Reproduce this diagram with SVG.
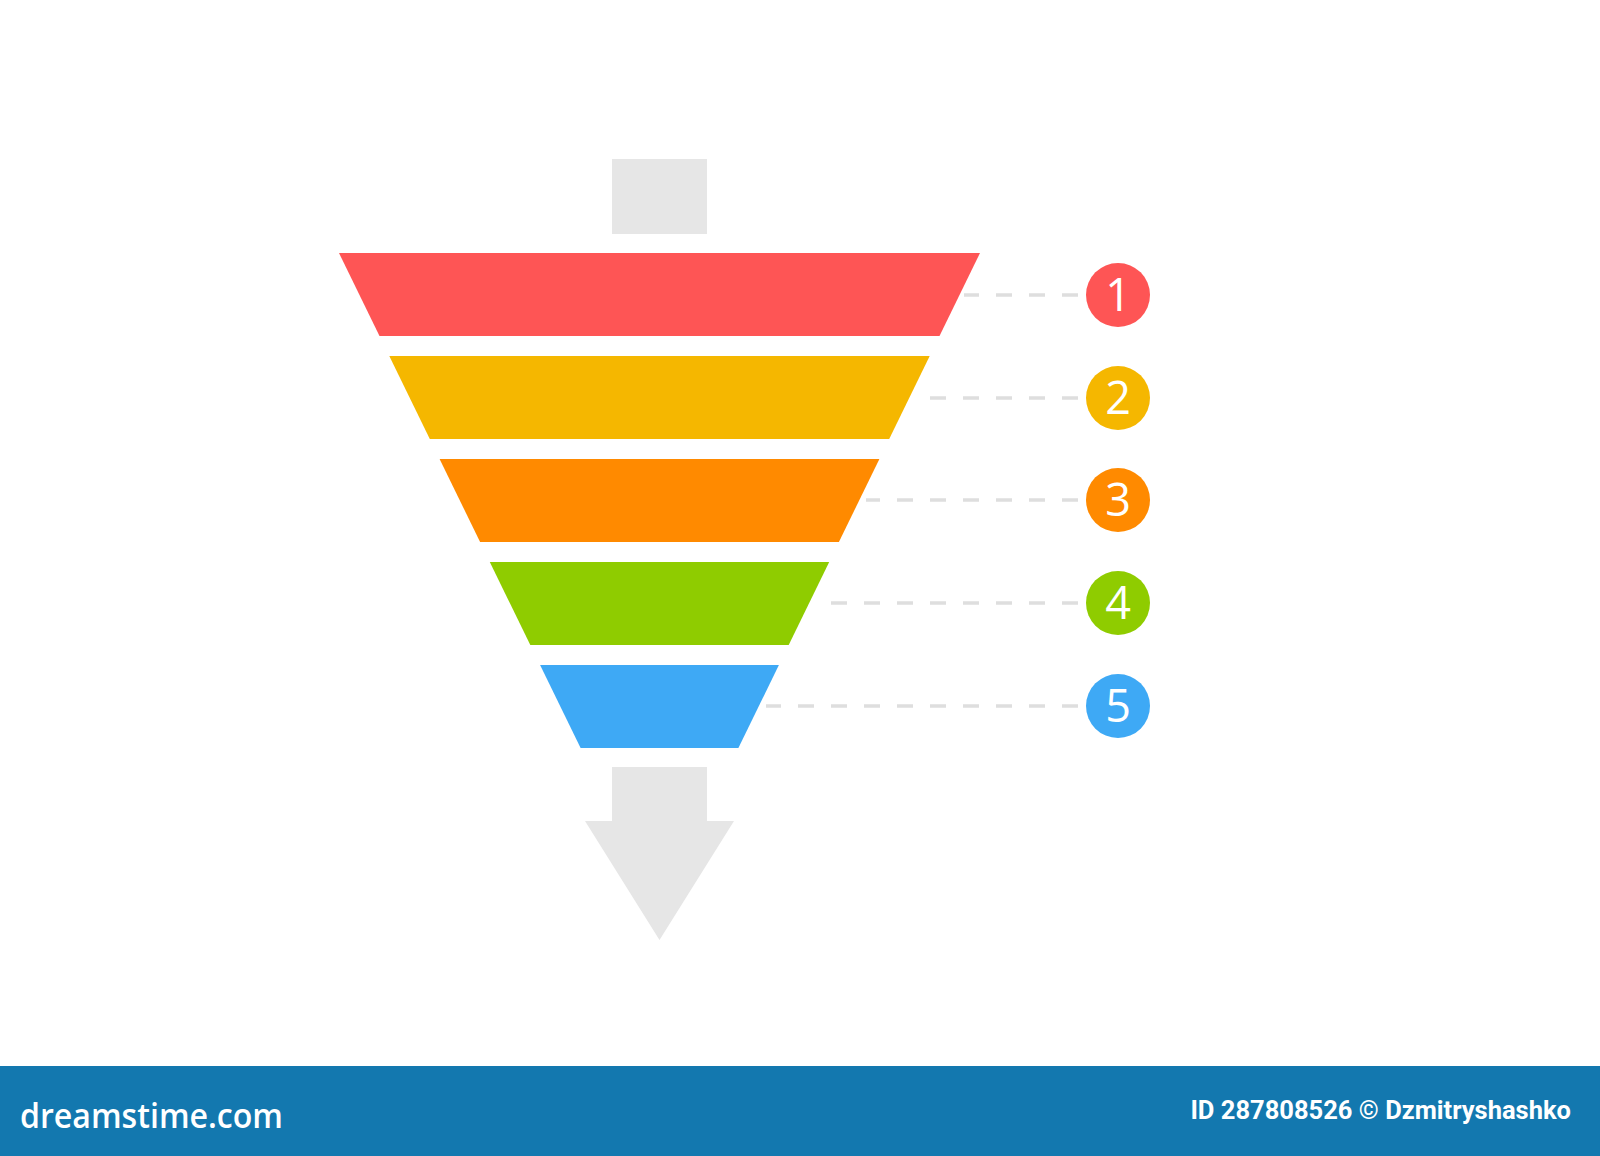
<svg xmlns="http://www.w3.org/2000/svg" width="1600" height="1156" viewBox="0 0 1600 1156">
<style>
.gray{fill:#e6e6e6}
.dash{stroke:#dedede;stroke-width:3.5;stroke-dasharray:16 17;fill:none}
.num{font-family:"Open Sans","Liberation Sans",sans-serif;font-size:45px;fill:#ffffff;text-anchor:middle}
.red{fill:#fe5555}.yel{fill:#f5b700}.ora{fill:#ff8a00}.grn{fill:#8fcc00}.blu{fill:#3ea9f5}
</style>
<rect width="1600" height="1156" fill="#ffffff"/>
<g id="connectors">
<line class="dash" x1="1078" y1="295" x2="964" y2="295"/>
<line class="dash" x1="1078" y1="398" x2="916" y2="398"/>
<line class="dash" x1="1078" y1="500" x2="866" y2="500"/>
<line class="dash" x1="1078" y1="603" x2="816" y2="603"/>
<line class="dash" x1="1078" y1="706" x2="766" y2="706"/>
</g>
<g id="arrow-in"><rect class="gray" x="612" y="159" width="95" height="75"/></g>
<g id="layer1"><polygon class="red" points="339,253 980,253 939.5,336 379.5,336"/></g>
<g id="layer2"><polygon class="yel" points="389.3,356 929.7,356 889.2,439 429.8,439"/></g>
<g id="layer3"><polygon class="ora" points="439.6,459 879.4,459 838.9,542 480.1,542"/></g>
<g id="layer4"><polygon class="grn" points="489.8,562 829.2,562 788.7,645 530.3,645"/></g>
<g id="layer5"><polygon class="blu" points="540.1,665 778.9,665 738.4,748 580.6,748"/></g>
<g id="arrow-out"><polygon class="gray" points="612,767 707,767 707,821 734,821 659.5,940 585,821 612,821"/></g>
<g id="badge1"><circle class="red" cx="1118" cy="295" r="32"/><text class="num" x="1118" y="311">1</text></g>
<g id="badge2"><circle class="yel" cx="1118" cy="398" r="32"/><text class="num" x="1118" y="414">2</text></g>
<g id="badge3"><circle class="ora" cx="1118" cy="500" r="32"/><text class="num" x="1118" y="516">3</text></g>
<g id="badge4"><circle class="grn" cx="1118" cy="603" r="32"/><text class="num" x="1118" y="619">4</text></g>
<g id="badge5"><circle class="blu" cx="1118" cy="706" r="32"/><text class="num" x="1118" y="722">5</text></g>
<g id="footer">
<rect x="0" y="1066" width="1600" height="90" fill="#1378af"/>
<text x="20" y="1128" font-family="'Open Sans','Liberation Sans',sans-serif" font-size="34" font-weight="600" fill="#ffffff" textLength="263" lengthAdjust="spacingAndGlyphs">dreamstime.com</text>
<text x="1571" y="1119" font-family="Roboto,'Liberation Sans',sans-serif" font-size="25.5" font-weight="bold" fill="#ffffff" text-anchor="end">ID 287808526 © Dzmitryshashko</text>
</g>
</svg>
